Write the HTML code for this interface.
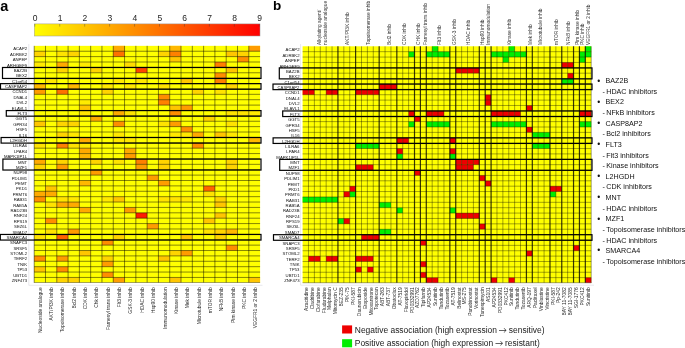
<!DOCTYPE html>
<html><head><meta charset="utf-8"><title>Figure</title>
<style>html,body{margin:0;padding:0;background:#fff;width:685px;height:348px;overflow:hidden}</style>
</head><body>
<svg width="685" height="348" viewBox="0 0 685 348" style="position:absolute;left:0;top:0;filter:blur(0.25px)"><rect width="685" height="348" fill="#fff"/><rect x="34.2" y="45.85" width="225.88" height="236.98" fill="#ffff00"/><rect x="113.26" y="45.85" width="11.29" height="5.39" fill="#ffaa00"/><rect x="169.73" y="45.85" width="11.29" height="5.39" fill="#ffb800"/><rect x="248.79" y="45.85" width="11.29" height="5.39" fill="#ff9c00"/><rect x="34.2" y="51.24" width="11.29" height="5.39" fill="#ffd400"/><rect x="56.79" y="51.24" width="11.29" height="5.39" fill="#ffe300"/><rect x="68.08" y="51.24" width="11.29" height="5.39" fill="#ffd400"/><rect x="113.26" y="51.24" width="11.29" height="5.39" fill="#ff7100"/><rect x="158.43" y="51.24" width="11.29" height="5.39" fill="#ffd400"/><rect x="169.73" y="51.24" width="11.29" height="5.39" fill="#ff8000"/><rect x="226.2" y="51.24" width="11.29" height="5.39" fill="#ffc600"/><rect x="237.49" y="51.24" width="11.29" height="5.39" fill="#ffd400"/><rect x="169.73" y="56.62" width="11.29" height="5.39" fill="#ffc600"/><rect x="237.49" y="56.62" width="11.29" height="5.39" fill="#ff8e00"/><rect x="34.2" y="62.01" width="11.29" height="5.39" fill="#ffeb00"/><rect x="56.79" y="62.01" width="11.29" height="5.39" fill="#ffaa00"/><rect x="79.38" y="62.01" width="11.29" height="5.39" fill="#ffeb00"/><rect x="124.55" y="62.01" width="11.29" height="5.39" fill="#ffdd00"/><rect x="214.9" y="62.01" width="11.29" height="5.39" fill="#ff8000"/><rect x="56.79" y="67.39" width="11.29" height="5.39" fill="#ffd400"/><rect x="90.67" y="67.39" width="11.29" height="5.39" fill="#ffd400"/><rect x="135.85" y="67.39" width="11.29" height="5.39" fill="#ff4700"/><rect x="226.2" y="67.39" width="11.29" height="5.39" fill="#ffc600"/><rect x="214.9" y="72.78" width="11.29" height="5.39" fill="#ff8e00"/><rect x="45.49" y="78.17" width="11.29" height="5.39" fill="#ffe800"/><rect x="113.26" y="78.17" width="11.29" height="5.39" fill="#ffe800"/><rect x="135.85" y="78.17" width="11.29" height="5.39" fill="#ffe800"/><rect x="181.02" y="78.17" width="11.29" height="5.39" fill="#ffc600"/><rect x="214.9" y="78.17" width="11.29" height="5.39" fill="#ff8000"/><rect x="34.2" y="83.55" width="11.29" height="5.39" fill="#ffb800"/><rect x="68.08" y="83.55" width="11.29" height="5.39" fill="#ffb800"/><rect x="101.96" y="83.55" width="11.29" height="5.39" fill="#ffe800"/><rect x="124.55" y="83.55" width="11.29" height="5.39" fill="#ffe800"/><rect x="158.43" y="83.55" width="11.29" height="5.39" fill="#ffe300"/><rect x="226.2" y="83.55" width="11.29" height="5.39" fill="#ffd400"/><rect x="34.2" y="88.94" width="11.29" height="5.39" fill="#ff9c00"/><rect x="56.79" y="88.94" width="11.29" height="5.39" fill="#ff7100"/><rect x="101.96" y="88.94" width="11.29" height="5.39" fill="#ffd400"/><rect x="192.32" y="88.94" width="11.29" height="5.39" fill="#ffd400"/><rect x="214.9" y="88.94" width="11.29" height="5.39" fill="#ffe300"/><rect x="158.43" y="94.32" width="11.29" height="5.39" fill="#ff8e00"/><rect x="79.38" y="99.71" width="11.29" height="5.39" fill="#ffeb00"/><rect x="158.43" y="99.71" width="11.29" height="5.39" fill="#ff8000"/><rect x="79.38" y="105.1" width="11.29" height="5.39" fill="#ffc600"/><rect x="169.73" y="105.1" width="11.29" height="5.39" fill="#ffc600"/><rect x="181.02" y="105.1" width="11.29" height="5.39" fill="#ff9c00"/><rect x="79.38" y="110.48" width="11.29" height="5.39" fill="#ffe300"/><rect x="113.26" y="110.48" width="11.29" height="5.39" fill="#ffaa00"/><rect x="124.55" y="110.48" width="11.29" height="5.39" fill="#ffe300"/><rect x="169.73" y="110.48" width="11.29" height="5.39" fill="#ff8e00"/><rect x="226.2" y="110.48" width="11.29" height="5.39" fill="#ffe300"/><rect x="237.49" y="110.48" width="11.29" height="5.39" fill="#ffe300"/><rect x="248.79" y="110.48" width="11.29" height="5.39" fill="#ffeb00"/><rect x="90.67" y="115.87" width="11.29" height="5.39" fill="#ffaa00"/><rect x="203.61" y="115.87" width="11.29" height="5.39" fill="#ffd400"/><rect x="34.2" y="121.25" width="11.29" height="5.39" fill="#ffc600"/><rect x="56.79" y="121.25" width="11.29" height="5.39" fill="#ffd400"/><rect x="68.08" y="121.25" width="11.29" height="5.39" fill="#ffd400"/><rect x="113.26" y="121.25" width="11.29" height="5.39" fill="#ff8e00"/><rect x="158.43" y="121.25" width="11.29" height="5.39" fill="#ffe300"/><rect x="169.73" y="121.25" width="11.29" height="5.39" fill="#ff9c00"/><rect x="226.2" y="121.25" width="11.29" height="5.39" fill="#ffe300"/><rect x="181.02" y="126.64" width="11.29" height="5.39" fill="#ff8e00"/><rect x="56.79" y="132.03" width="11.29" height="5.39" fill="#ffd400"/><rect x="68.08" y="132.03" width="11.29" height="5.39" fill="#ffe800"/><rect x="113.26" y="132.03" width="11.29" height="5.39" fill="#ffe800"/><rect x="169.73" y="132.03" width="11.29" height="5.39" fill="#ffe800"/><rect x="181.02" y="132.03" width="11.29" height="5.39" fill="#ffe800"/><rect x="192.32" y="132.03" width="11.29" height="5.39" fill="#ffaa00"/><rect x="214.9" y="132.03" width="11.29" height="5.39" fill="#ffc600"/><rect x="226.2" y="132.03" width="11.29" height="5.39" fill="#ffe800"/><rect x="79.38" y="137.41" width="11.29" height="5.39" fill="#ffaa00"/><rect x="113.26" y="137.41" width="11.29" height="5.39" fill="#ffe800"/><rect x="124.55" y="137.41" width="11.29" height="5.39" fill="#ffe800"/><rect x="248.79" y="137.41" width="11.29" height="5.39" fill="#ffb800"/><rect x="34.2" y="142.8" width="11.29" height="5.39" fill="#ffe300"/><rect x="56.79" y="142.8" width="11.29" height="5.39" fill="#ff8000"/><rect x="68.08" y="142.8" width="11.29" height="5.39" fill="#ffe300"/><rect x="79.38" y="142.8" width="11.29" height="5.39" fill="#ffe800"/><rect x="192.32" y="142.8" width="11.29" height="5.39" fill="#ff8e00"/><rect x="79.38" y="148.18" width="11.29" height="5.39" fill="#ffaa00"/><rect x="124.55" y="148.18" width="11.29" height="5.39" fill="#ffaa00"/><rect x="79.38" y="153.57" width="11.29" height="5.39" fill="#ffb800"/><rect x="124.55" y="153.57" width="11.29" height="5.39" fill="#ff9c00"/><rect x="34.2" y="158.96" width="11.29" height="5.39" fill="#ffaa00"/><rect x="56.79" y="158.96" width="11.29" height="5.39" fill="#ffd400"/><rect x="90.67" y="158.96" width="11.29" height="5.39" fill="#ffd400"/><rect x="113.26" y="158.96" width="11.29" height="5.39" fill="#ffe300"/><rect x="135.85" y="158.96" width="11.29" height="5.39" fill="#ff8000"/><rect x="158.43" y="158.96" width="11.29" height="5.39" fill="#ffd400"/><rect x="226.2" y="158.96" width="11.29" height="5.39" fill="#ffd400"/><rect x="34.2" y="164.34" width="11.29" height="5.39" fill="#ffd400"/><rect x="56.79" y="164.34" width="11.29" height="5.39" fill="#ff9c00"/><rect x="135.85" y="164.34" width="11.29" height="5.39" fill="#ff9c00"/><rect x="158.43" y="164.34" width="11.29" height="5.39" fill="#ffd400"/><rect x="226.2" y="164.34" width="11.29" height="5.39" fill="#ffd400"/><rect x="90.67" y="169.73" width="11.29" height="5.39" fill="#ff9c00"/><rect x="147.14" y="175.11" width="11.29" height="5.39" fill="#ff9c00"/><rect x="79.38" y="180.5" width="11.29" height="5.39" fill="#ffb800"/><rect x="158.43" y="180.5" width="11.29" height="5.39" fill="#ff9c00"/><rect x="45.49" y="185.89" width="11.29" height="5.39" fill="#ffc600"/><rect x="203.61" y="185.89" width="11.29" height="5.39" fill="#ff6300"/><rect x="34.2" y="191.27" width="11.29" height="5.39" fill="#ffaa00"/><rect x="45.49" y="191.27" width="11.29" height="5.39" fill="#ffaa00"/><rect x="203.61" y="191.27" width="11.29" height="5.39" fill="#ffe300"/><rect x="34.2" y="196.66" width="11.29" height="5.39" fill="#ff8e00"/><rect x="56.79" y="196.66" width="11.29" height="5.39" fill="#ffe300"/><rect x="68.08" y="196.66" width="11.29" height="5.39" fill="#ffe800"/><rect x="101.96" y="196.66" width="11.29" height="5.39" fill="#ffe800"/><rect x="113.26" y="196.66" width="11.29" height="5.39" fill="#ffc600"/><rect x="158.43" y="196.66" width="11.29" height="5.39" fill="#ffe300"/><rect x="169.73" y="196.66" width="11.29" height="5.39" fill="#ffe300"/><rect x="181.02" y="196.66" width="11.29" height="5.39" fill="#ffe800"/><rect x="214.9" y="196.66" width="11.29" height="5.39" fill="#ffd400"/><rect x="45.49" y="202.04" width="11.29" height="5.39" fill="#ffe300"/><rect x="56.79" y="202.04" width="11.29" height="5.39" fill="#ffaa00"/><rect x="68.08" y="202.04" width="11.29" height="5.39" fill="#ffaa00"/><rect x="214.9" y="202.04" width="11.29" height="5.39" fill="#ffc600"/><rect x="79.38" y="207.43" width="11.29" height="5.39" fill="#ffaa00"/><rect x="124.55" y="207.43" width="11.29" height="5.39" fill="#ff9c00"/><rect x="135.85" y="212.82" width="11.29" height="5.39" fill="#ff1c00"/><rect x="214.9" y="212.82" width="11.29" height="5.39" fill="#ffc600"/><rect x="45.49" y="218.2" width="11.29" height="5.39" fill="#ff8e00"/><rect x="203.61" y="218.2" width="11.29" height="5.39" fill="#ffc600"/><rect x="147.14" y="223.59" width="11.29" height="5.39" fill="#ff9c00"/><rect x="45.49" y="228.97" width="11.29" height="5.39" fill="#ffe300"/><rect x="68.08" y="228.97" width="11.29" height="5.39" fill="#ff9c00"/><rect x="203.61" y="228.97" width="11.29" height="5.39" fill="#ffe300"/><rect x="214.9" y="228.97" width="11.29" height="5.39" fill="#ffd400"/><rect x="226.2" y="228.97" width="11.29" height="5.39" fill="#ffb800"/><rect x="34.2" y="234.36" width="11.29" height="5.39" fill="#ffe300"/><rect x="56.79" y="234.36" width="11.29" height="5.39" fill="#ff6300"/><rect x="113.26" y="234.36" width="11.29" height="5.39" fill="#ffd400"/><rect x="181.02" y="234.36" width="11.29" height="5.39" fill="#ffc600"/><rect x="214.9" y="234.36" width="11.29" height="5.39" fill="#ffd400"/><rect x="101.96" y="239.75" width="11.29" height="5.39" fill="#ff8e00"/><rect x="226.2" y="245.13" width="11.29" height="5.39" fill="#ff8e00"/><rect x="79.38" y="250.52" width="11.29" height="5.39" fill="#ffc600"/><rect x="169.73" y="250.52" width="11.29" height="5.39" fill="#ffd400"/><rect x="181.02" y="250.52" width="11.29" height="5.39" fill="#ff9c00"/><rect x="34.2" y="255.9" width="11.29" height="5.39" fill="#ff8e00"/><rect x="56.79" y="255.9" width="11.29" height="5.39" fill="#ff9c00"/><rect x="101.96" y="255.9" width="11.29" height="5.39" fill="#ffd400"/><rect x="158.43" y="255.9" width="11.29" height="5.39" fill="#ffc600"/><rect x="101.96" y="261.29" width="11.29" height="5.39" fill="#ff9c00"/><rect x="34.2" y="266.68" width="11.29" height="5.39" fill="#ffc600"/><rect x="56.79" y="266.68" width="11.29" height="5.39" fill="#ff8e00"/><rect x="101.96" y="272.06" width="11.29" height="5.39" fill="#ff8e00"/><rect x="56.79" y="277.45" width="11.29" height="5.39" fill="#ffd400"/><rect x="68.08" y="277.45" width="11.29" height="5.39" fill="#ffd400"/><rect x="113.26" y="277.45" width="11.29" height="5.39" fill="#ff9c00"/><rect x="169.73" y="277.45" width="11.29" height="5.39" fill="#ffc600"/><rect x="248.79" y="277.45" width="11.29" height="5.39" fill="#ffc600"/><path d="M34.2 51.24H260.08M34.2 56.62H260.08M34.2 62.01H260.08M34.2 67.39H260.08M34.2 72.78H260.08M34.2 78.17H260.08M34.2 83.55H260.08M34.2 88.94H260.08M34.2 94.32H260.08M34.2 99.71H260.08M34.2 105.1H260.08M34.2 110.48H260.08M34.2 115.87H260.08M34.2 121.25H260.08M34.2 126.64H260.08M34.2 132.03H260.08M34.2 137.41H260.08M34.2 142.8H260.08M34.2 148.18H260.08M34.2 153.57H260.08M34.2 158.96H260.08M34.2 164.34H260.08M34.2 169.73H260.08M34.2 175.11H260.08M34.2 180.5H260.08M34.2 185.89H260.08M34.2 191.27H260.08M34.2 196.66H260.08M34.2 202.04H260.08M34.2 207.43H260.08M34.2 212.82H260.08M34.2 218.2H260.08M34.2 223.59H260.08M34.2 228.97H260.08M34.2 234.36H260.08M34.2 239.75H260.08M34.2 245.13H260.08M34.2 250.52H260.08M34.2 255.9H260.08M34.2 261.29H260.08M34.2 266.68H260.08M34.2 272.06H260.08M34.2 277.45H260.08M34.2 45.85V282.83M45.49 45.85V282.83M56.79 45.85V282.83M68.08 45.85V282.83M79.38 45.85V282.83M90.67 45.85V282.83M101.96 45.85V282.83M113.26 45.85V282.83M124.55 45.85V282.83M135.85 45.85V282.83M147.14 45.85V282.83M158.43 45.85V282.83M169.73 45.85V282.83M181.02 45.85V282.83M192.32 45.85V282.83M203.61 45.85V282.83M214.9 45.85V282.83M226.2 45.85V282.83M237.49 45.85V282.83M248.79 45.85V282.83" stroke="#000" stroke-opacity="0.6" stroke-width="0.8" fill="none"/><path d="M34.2 282.53H260.08" stroke="#666" stroke-width="0.6" fill="none"/><rect x="302.6" y="46.3" width="288.61" height="236.72" fill="#ffff00"/><rect x="432.18" y="46.3" width="5.89" height="5.38" fill="#00ee00"/><rect x="508.75" y="46.3" width="5.89" height="5.38" fill="#00ee00"/><rect x="585.32" y="46.3" width="5.89" height="5.38" fill="#00ee00"/><rect x="408.62" y="51.68" width="5.89" height="5.38" fill="#00ee00"/><rect x="426.29" y="51.68" width="5.89" height="5.38" fill="#00ee00"/><rect x="432.18" y="51.68" width="5.89" height="5.38" fill="#00ee00"/><rect x="438.07" y="51.68" width="5.89" height="5.38" fill="#00ee00"/><rect x="443.96" y="51.68" width="5.89" height="5.38" fill="#00ee00"/><rect x="491.08" y="51.68" width="5.89" height="5.38" fill="#00ee00"/><rect x="496.97" y="51.68" width="5.89" height="5.38" fill="#00ee00"/><rect x="502.86" y="51.68" width="5.89" height="5.38" fill="#00ee00"/><rect x="508.75" y="51.68" width="5.89" height="5.38" fill="#00ee00"/><rect x="514.64" y="51.68" width="5.89" height="5.38" fill="#00ee00"/><rect x="520.53" y="51.68" width="5.89" height="5.38" fill="#00ee00"/><rect x="579.43" y="51.68" width="5.89" height="5.38" fill="#00ee00"/><rect x="585.32" y="51.68" width="5.89" height="5.38" fill="#00ee00"/><rect x="502.86" y="57.06" width="5.89" height="5.38" fill="#00ee00"/><rect x="579.43" y="57.06" width="5.89" height="5.38" fill="#00ee00"/><rect x="561.76" y="78.58" width="5.89" height="5.38" fill="#00ee00"/><rect x="567.65" y="78.58" width="5.89" height="5.38" fill="#00ee00"/><rect x="408.62" y="121.62" width="5.89" height="5.38" fill="#00ee00"/><rect x="426.29" y="121.62" width="5.89" height="5.38" fill="#00ee00"/><rect x="432.18" y="121.62" width="5.89" height="5.38" fill="#00ee00"/><rect x="438.07" y="121.62" width="5.89" height="5.38" fill="#00ee00"/><rect x="443.96" y="121.62" width="5.89" height="5.38" fill="#00ee00"/><rect x="491.08" y="121.62" width="5.89" height="5.38" fill="#00ee00"/><rect x="496.97" y="121.62" width="5.89" height="5.38" fill="#00ee00"/><rect x="502.86" y="121.62" width="5.89" height="5.38" fill="#00ee00"/><rect x="508.75" y="121.62" width="5.89" height="5.38" fill="#00ee00"/><rect x="514.64" y="121.62" width="5.89" height="5.38" fill="#00ee00"/><rect x="520.53" y="121.62" width="5.89" height="5.38" fill="#00ee00"/><rect x="579.43" y="121.62" width="5.89" height="5.38" fill="#00ee00"/><rect x="585.32" y="121.62" width="5.89" height="5.38" fill="#00ee00"/><rect x="532.31" y="132.38" width="5.89" height="5.38" fill="#00ee00"/><rect x="538.2" y="132.38" width="5.89" height="5.38" fill="#00ee00"/><rect x="544.09" y="132.38" width="5.89" height="5.38" fill="#00ee00"/><rect x="355.61" y="143.14" width="5.89" height="5.38" fill="#00ee00"/><rect x="361.5" y="143.14" width="5.89" height="5.38" fill="#00ee00"/><rect x="367.39" y="143.14" width="5.89" height="5.38" fill="#00ee00"/><rect x="373.28" y="143.14" width="5.89" height="5.38" fill="#00ee00"/><rect x="532.31" y="143.14" width="5.89" height="5.38" fill="#00ee00"/><rect x="538.2" y="143.14" width="5.89" height="5.38" fill="#00ee00"/><rect x="544.09" y="143.14" width="5.89" height="5.38" fill="#00ee00"/><rect x="396.84" y="153.9" width="5.89" height="5.38" fill="#00ee00"/><rect x="449.85" y="153.9" width="5.89" height="5.38" fill="#00ee00"/><rect x="349.72" y="191.56" width="5.89" height="5.38" fill="#00ee00"/><rect x="549.98" y="191.56" width="5.89" height="5.38" fill="#00ee00"/><rect x="302.6" y="196.94" width="5.89" height="5.38" fill="#00ee00"/><rect x="308.49" y="196.94" width="5.89" height="5.38" fill="#00ee00"/><rect x="314.38" y="196.94" width="5.89" height="5.38" fill="#00ee00"/><rect x="320.27" y="196.94" width="5.89" height="5.38" fill="#00ee00"/><rect x="326.16" y="196.94" width="5.89" height="5.38" fill="#00ee00"/><rect x="332.05" y="196.94" width="5.89" height="5.38" fill="#00ee00"/><rect x="379.17" y="202.32" width="5.89" height="5.38" fill="#00ee00"/><rect x="385.06" y="202.32" width="5.89" height="5.38" fill="#00ee00"/><rect x="396.84" y="207.7" width="5.89" height="5.38" fill="#00ee00"/><rect x="449.85" y="207.7" width="5.89" height="5.38" fill="#00ee00"/><rect x="337.94" y="218.46" width="5.89" height="5.38" fill="#00ee00"/><rect x="379.17" y="229.22" width="5.89" height="5.38" fill="#00ee00"/><rect x="385.06" y="229.22" width="5.89" height="5.38" fill="#00ee00"/><rect x="561.76" y="62.44" width="5.89" height="5.38" fill="#ee0000"/><rect x="567.65" y="62.44" width="5.89" height="5.38" fill="#ee0000"/><rect x="455.74" y="67.82" width="5.89" height="5.38" fill="#ee0000"/><rect x="461.63" y="67.82" width="5.89" height="5.38" fill="#ee0000"/><rect x="467.52" y="67.82" width="5.89" height="5.38" fill="#ee0000"/><rect x="473.41" y="67.82" width="5.89" height="5.38" fill="#ee0000"/><rect x="567.65" y="73.2" width="5.89" height="5.38" fill="#ee0000"/><rect x="379.17" y="83.96" width="5.89" height="5.38" fill="#ee0000"/><rect x="385.06" y="83.96" width="5.89" height="5.38" fill="#ee0000"/><rect x="390.95" y="83.96" width="5.89" height="5.38" fill="#ee0000"/><rect x="302.6" y="89.34" width="5.89" height="5.38" fill="#ee0000"/><rect x="308.49" y="89.34" width="5.89" height="5.38" fill="#ee0000"/><rect x="326.16" y="89.34" width="5.89" height="5.38" fill="#ee0000"/><rect x="332.05" y="89.34" width="5.89" height="5.38" fill="#ee0000"/><rect x="355.61" y="89.34" width="5.89" height="5.38" fill="#ee0000"/><rect x="361.5" y="89.34" width="5.89" height="5.38" fill="#ee0000"/><rect x="367.39" y="89.34" width="5.89" height="5.38" fill="#ee0000"/><rect x="373.28" y="89.34" width="5.89" height="5.38" fill="#ee0000"/><rect x="485.19" y="94.72" width="5.89" height="5.38" fill="#ee0000"/><rect x="485.19" y="100.1" width="5.89" height="5.38" fill="#ee0000"/><rect x="526.42" y="105.48" width="5.89" height="5.38" fill="#ee0000"/><rect x="408.62" y="110.86" width="5.89" height="5.38" fill="#ee0000"/><rect x="426.29" y="110.86" width="5.89" height="5.38" fill="#ee0000"/><rect x="432.18" y="110.86" width="5.89" height="5.38" fill="#ee0000"/><rect x="438.07" y="110.86" width="5.89" height="5.38" fill="#ee0000"/><rect x="491.08" y="110.86" width="5.89" height="5.38" fill="#ee0000"/><rect x="496.97" y="110.86" width="5.89" height="5.38" fill="#ee0000"/><rect x="502.86" y="110.86" width="5.89" height="5.38" fill="#ee0000"/><rect x="508.75" y="110.86" width="5.89" height="5.38" fill="#ee0000"/><rect x="514.64" y="110.86" width="5.89" height="5.38" fill="#ee0000"/><rect x="579.43" y="110.86" width="5.89" height="5.38" fill="#ee0000"/><rect x="585.32" y="110.86" width="5.89" height="5.38" fill="#ee0000"/><rect x="414.51" y="116.24" width="5.89" height="5.38" fill="#ee0000"/><rect x="526.42" y="127" width="5.89" height="5.38" fill="#ee0000"/><rect x="396.84" y="137.76" width="5.89" height="5.38" fill="#ee0000"/><rect x="402.73" y="137.76" width="5.89" height="5.38" fill="#ee0000"/><rect x="449.85" y="137.76" width="5.89" height="5.38" fill="#ee0000"/><rect x="396.84" y="148.52" width="5.89" height="5.38" fill="#ee0000"/><rect x="449.85" y="148.52" width="5.89" height="5.38" fill="#ee0000"/><rect x="455.74" y="159.28" width="5.89" height="5.38" fill="#ee0000"/><rect x="461.63" y="159.28" width="5.89" height="5.38" fill="#ee0000"/><rect x="467.52" y="159.28" width="5.89" height="5.38" fill="#ee0000"/><rect x="473.41" y="159.28" width="5.89" height="5.38" fill="#ee0000"/><rect x="355.61" y="164.66" width="5.89" height="5.38" fill="#ee0000"/><rect x="361.5" y="164.66" width="5.89" height="5.38" fill="#ee0000"/><rect x="367.39" y="164.66" width="5.89" height="5.38" fill="#ee0000"/><rect x="455.74" y="164.66" width="5.89" height="5.38" fill="#ee0000"/><rect x="461.63" y="164.66" width="5.89" height="5.38" fill="#ee0000"/><rect x="467.52" y="164.66" width="5.89" height="5.38" fill="#ee0000"/><rect x="414.51" y="170.04" width="5.89" height="5.38" fill="#ee0000"/><rect x="479.3" y="175.42" width="5.89" height="5.38" fill="#ee0000"/><rect x="485.19" y="180.8" width="5.89" height="5.38" fill="#ee0000"/><rect x="349.72" y="186.18" width="5.89" height="5.38" fill="#ee0000"/><rect x="549.98" y="186.18" width="5.89" height="5.38" fill="#ee0000"/><rect x="555.87" y="186.18" width="5.89" height="5.38" fill="#ee0000"/><rect x="343.83" y="191.56" width="5.89" height="5.38" fill="#ee0000"/><rect x="455.74" y="213.08" width="5.89" height="5.38" fill="#ee0000"/><rect x="461.63" y="213.08" width="5.89" height="5.38" fill="#ee0000"/><rect x="467.52" y="213.08" width="5.89" height="5.38" fill="#ee0000"/><rect x="473.41" y="213.08" width="5.89" height="5.38" fill="#ee0000"/><rect x="343.83" y="218.46" width="5.89" height="5.38" fill="#ee0000"/><rect x="479.3" y="223.84" width="5.89" height="5.38" fill="#ee0000"/><rect x="361.5" y="234.6" width="5.89" height="5.38" fill="#ee0000"/><rect x="367.39" y="234.6" width="5.89" height="5.38" fill="#ee0000"/><rect x="373.28" y="234.6" width="5.89" height="5.38" fill="#ee0000"/><rect x="420.4" y="239.98" width="5.89" height="5.38" fill="#ee0000"/><rect x="573.54" y="245.36" width="5.89" height="5.38" fill="#ee0000"/><rect x="526.42" y="250.74" width="5.89" height="5.38" fill="#ee0000"/><rect x="308.49" y="256.12" width="5.89" height="5.38" fill="#ee0000"/><rect x="314.38" y="256.12" width="5.89" height="5.38" fill="#ee0000"/><rect x="326.16" y="256.12" width="5.89" height="5.38" fill="#ee0000"/><rect x="332.05" y="256.12" width="5.89" height="5.38" fill="#ee0000"/><rect x="355.61" y="256.12" width="5.89" height="5.38" fill="#ee0000"/><rect x="361.5" y="256.12" width="5.89" height="5.38" fill="#ee0000"/><rect x="367.39" y="256.12" width="5.89" height="5.38" fill="#ee0000"/><rect x="420.4" y="261.5" width="5.89" height="5.38" fill="#ee0000"/><rect x="355.61" y="266.88" width="5.89" height="5.38" fill="#ee0000"/><rect x="367.39" y="266.88" width="5.89" height="5.38" fill="#ee0000"/><rect x="420.4" y="272.26" width="5.89" height="5.38" fill="#ee0000"/><rect x="426.29" y="277.64" width="5.89" height="5.38" fill="#ee0000"/><rect x="432.18" y="277.64" width="5.89" height="5.38" fill="#ee0000"/><rect x="491.08" y="277.64" width="5.89" height="5.38" fill="#ee0000"/><rect x="508.75" y="277.64" width="5.89" height="5.38" fill="#ee0000"/><rect x="585.32" y="277.64" width="5.89" height="5.38" fill="#ee0000"/><path d="M302.6 51.68H591.21M302.6 57.06H591.21M302.6 62.44H591.21M302.6 67.82H591.21M302.6 73.2H591.21M302.6 78.58H591.21M302.6 83.96H591.21M302.6 89.34H591.21M302.6 94.72H591.21M302.6 100.1H591.21M302.6 105.48H591.21M302.6 110.86H591.21M302.6 116.24H591.21M302.6 121.62H591.21M302.6 127H591.21M302.6 132.38H591.21M302.6 137.76H591.21M302.6 143.14H591.21M302.6 148.52H591.21M302.6 153.9H591.21M302.6 159.28H591.21M302.6 164.66H591.21M302.6 170.04H591.21M302.6 175.42H591.21M302.6 180.8H591.21M302.6 186.18H591.21M302.6 191.56H591.21M302.6 196.94H591.21M302.6 202.32H591.21M302.6 207.7H591.21M302.6 213.08H591.21M302.6 218.46H591.21M302.6 223.84H591.21M302.6 229.22H591.21M302.6 234.6H591.21M302.6 239.98H591.21M302.6 245.36H591.21M302.6 250.74H591.21M302.6 256.12H591.21M302.6 261.5H591.21M302.6 266.88H591.21M302.6 272.26H591.21M302.6 277.64H591.21M308.49 46.3V283.02M314.38 46.3V283.02M320.27 46.3V283.02M326.16 46.3V283.02M332.05 46.3V283.02M343.83 46.3V283.02M349.72 46.3V283.02M361.5 46.3V283.02M367.39 46.3V283.02M373.28 46.3V283.02M385.06 46.3V283.02M390.95 46.3V283.02M402.73 46.3V283.02M408.62 46.3V283.02M432.18 46.3V283.02M438.07 46.3V283.02M443.96 46.3V283.02M461.63 46.3V283.02M467.52 46.3V283.02M473.41 46.3V283.02M496.97 46.3V283.02M502.86 46.3V283.02M508.75 46.3V283.02M514.64 46.3V283.02M520.53 46.3V283.02M538.2 46.3V283.02M544.09 46.3V283.02M555.87 46.3V283.02M567.65 46.3V283.02M591.21 46.3V283.02" stroke="#000" stroke-opacity="0.45" stroke-width="0.8" fill="none"/><path d="M337.94 46.3V283.02M355.61 46.3V283.02M379.17 46.3V283.02M396.84 46.3V283.02M414.51 46.3V283.02M420.4 46.3V283.02M426.29 46.3V283.02M449.85 46.3V283.02M455.74 46.3V283.02M479.3 46.3V283.02M485.19 46.3V283.02M491.08 46.3V283.02M526.42 46.3V283.02M532.31 46.3V283.02M549.98 46.3V283.02M561.76 46.3V283.02M573.54 46.3V283.02M579.43 46.3V283.02M585.32 46.3V283.02" stroke="#000" stroke-opacity="0.78" stroke-width="1.2" fill="none"/><path d="M302.6 282.72H591.21" stroke="#666" stroke-width="0.6" fill="none"/><path d="M28.8 44V285.3M28.8 285.3H262.5M300.6 44V285.2M300.6 285.2H594" stroke="#e2e2e8" stroke-width="0.8" fill="none"/><g font-family="'Liberation Sans', Arial, sans-serif" font-size="4.25" fill="#111" text-anchor="end"><text x="27.1" y="50.39">ACAP2</text><text x="299.5" y="51.49">ACAP2</text><text x="27.1" y="55.78">ADRBK2</text><text x="299.5" y="56.85">ADRBK2</text><text x="27.1" y="61.16">ANPEP</text><text x="299.5" y="62.21">ANPEP</text><text x="27.1" y="66.55">ARHGEF9</text><text x="299.5" y="67.58">ARHGEF9</text><text x="27.1" y="71.94">BAZ2B</text><text x="299.5" y="72.94">BAZ2B</text><text x="27.1" y="77.32">BEX2</text><text x="299.5" y="78.3">BEX2</text><text x="27.1" y="82.71">C1orf54</text><text x="299.5" y="83.66">C1orf54</text><text x="27.1" y="88.09">CASP8AP2</text><text x="299.5" y="89.02">CASP8AP2</text><text x="27.1" y="93.48">CCND1</text><text x="299.5" y="94.39">CCND1</text><text x="27.1" y="98.87">DNAL4</text><text x="299.5" y="99.75">DNAL4</text><text x="27.1" y="104.25">DVL2</text><text x="299.5" y="105.11">DVL2</text><text x="27.1" y="109.64">ELAVL1</text><text x="299.5" y="110.47">ELAVL1</text><text x="27.1" y="115.02">FLT3</text><text x="299.5" y="115.83">FLT3</text><text x="27.1" y="120.41">GGT5</text><text x="299.5" y="121.2">GGT5</text><text x="27.1" y="125.8">GPR34</text><text x="299.5" y="126.56">GPR34</text><text x="27.1" y="131.18">HSF5</text><text x="299.5" y="131.92">HSF5</text><text x="27.1" y="136.57">IL16</text><text x="299.5" y="137.28">IL16</text><text x="27.1" y="141.96">L2HGDH</text><text x="299.5" y="142.64">L2HGDH</text><text x="27.1" y="147.34">LILRA6</text><text x="299.5" y="148.01">LILRA6</text><text x="27.1" y="152.73">LPAR4</text><text x="299.5" y="153.37">LPAR4</text><text x="27.1" y="158.11">MAPK1IP1L</text><text x="299.5" y="158.73">MAPK1IP1L</text><text x="27.1" y="163.5">MNT</text><text x="299.5" y="164.09">MNT</text><text x="27.1" y="168.89">MZF1</text><text x="299.5" y="169.45">MZF1</text><text x="27.1" y="174.27">NUP98</text><text x="299.5" y="174.82">NUP98</text><text x="27.1" y="179.66">PDLIM1</text><text x="299.5" y="180.18">PDLIM1</text><text x="27.1" y="185.04">PEMT</text><text x="299.5" y="185.54">PEMT</text><text x="27.1" y="190.43">PKD1</text><text x="299.5" y="190.9">PKD1</text><text x="27.1" y="195.81">PRMT6</text><text x="299.5" y="196.26">PRMT6</text><text x="27.1" y="201.2">RAB31</text><text x="299.5" y="201.63">RAB31</text><text x="27.1" y="206.59">RAB5A</text><text x="299.5" y="206.99">RAB5A</text><text x="27.1" y="211.97">RAD23B</text><text x="299.5" y="212.35">RAD23B</text><text x="27.1" y="217.36">RNF24</text><text x="299.5" y="217.71">RNF24</text><text x="27.1" y="222.75">RPS19</text><text x="299.5" y="223.07">RPS19</text><text x="27.1" y="228.13">SEZ6L</text><text x="299.5" y="228.44">SEZ6L</text><text x="27.1" y="233.52">SMAD7</text><text x="299.5" y="233.8">SMAD7</text><text x="27.1" y="238.9">SMARCA4</text><text x="299.5" y="239.16">SMARCA4</text><text x="27.1" y="244.29">SNAPC3</text><text x="299.5" y="244.52">SNAPC3</text><text x="27.1" y="249.68">SRSF5</text><text x="299.5" y="249.88">SRSF5</text><text x="27.1" y="255.06">STOML2</text><text x="299.5" y="255.25">STOML2</text><text x="27.1" y="260.45">TERF2</text><text x="299.5" y="260.61">TERF2</text><text x="27.1" y="265.83">TNIK</text><text x="299.5" y="265.97">TNIK</text><text x="27.1" y="271.22">TP53</text><text x="299.5" y="271.33">TP53</text><text x="27.1" y="276.61">UBTD1</text><text x="299.5" y="276.69">UBTD1</text><text x="27.1" y="281.99">ZNF473</text><text x="299.5" y="282.06">ZNF473</text></g><g font-family="'Liberation Sans', Arial, sans-serif" font-size="4.9" fill="#2a2a2a" text-anchor="end"><text transform="translate(41.6 287.3) rotate(-90)">Nucleoside analogue</text><text transform="translate(52.96 287.3) rotate(-90)">AKT/PI3K inhib</text><text transform="translate(64.32 287.3) rotate(-90)">Topoisomerase inhib</text><text transform="translate(75.68 287.3) rotate(-90)">Bcl2 inhib</text><text transform="translate(87.04 287.3) rotate(-90)">CDK inhib</text><text transform="translate(98.4 287.3) rotate(-90)">Chk inhib</text><text transform="translate(109.76 287.3) rotate(-90)">Farnesyl trans inhib</text><text transform="translate(121.12 287.3) rotate(-90)">Flt3 inhib</text><text transform="translate(132.48 287.3) rotate(-90)">GSK-3 inhib</text><text transform="translate(143.84 287.3) rotate(-90)">HDAC inhib</text><text transform="translate(155.2 287.3) rotate(-90)">Hsp90 inhib</text><text transform="translate(166.56 287.3) rotate(-90)">Immunomodulation</text><text transform="translate(177.92 287.3) rotate(-90)">Kinase inhib</text><text transform="translate(189.28 287.3) rotate(-90)">Mek inhib</text><text transform="translate(200.64 287.3) rotate(-90)">Microtubule inhib</text><text transform="translate(212 287.3) rotate(-90)">mTOR inhib</text><text transform="translate(223.36 287.3) rotate(-90)">NFkB inhib</text><text transform="translate(234.72 287.3) rotate(-90)">Pim kinase inhib</text><text transform="translate(246.08 287.3) rotate(-90)">PKC inhib</text><text transform="translate(257.44 287.3) rotate(-90)">VEGFR1 or 2 inhib</text><text transform="translate(307.9 287.3) rotate(-90)">Azacitidine</text><text transform="translate(313.77 287.3) rotate(-90)">Cladribine</text><text transform="translate(319.65 287.3) rotate(-90)">Clofarabine</text><text transform="translate(325.52 287.3) rotate(-90)">Fludarabine</text><text transform="translate(331.39 287.3) rotate(-90)">Melphalan</text><text transform="translate(337.26 287.3) rotate(-90)">Mitomycin C</text><text transform="translate(343.14 287.3) rotate(-90)">BEZ-235</text><text transform="translate(349.01 287.3) rotate(-90)">PIK-75</text><text transform="translate(354.88 287.3) rotate(-90)">PKI-587</text><text transform="translate(360.76 287.3) rotate(-90)">Daunorubicin</text><text transform="translate(366.63 287.3) rotate(-90)">Etoposide</text><text transform="translate(372.5 287.3) rotate(-90)">Mitoxantrone</text><text transform="translate(378.38 287.3) rotate(-90)">Topotecan</text><text transform="translate(384.25 287.3) rotate(-90)">ABT-263</text><text transform="translate(390.12 287.3) rotate(-90)">ABT-737</text><text transform="translate(396 287.3) rotate(-90)">Obatoclax</text><text transform="translate(401.87 287.3) rotate(-90)">AT-7519</text><text transform="translate(407.74 287.3) rotate(-90)">Flavopiridol</text><text transform="translate(413.61 287.3) rotate(-90)">PD0332991</text><text transform="translate(419.49 287.3) rotate(-90)">AZD7762</text><text transform="translate(425.36 287.3) rotate(-90)">Tipifarnib</text><text transform="translate(431.23 287.3) rotate(-90)">AP24534</text><text transform="translate(437.11 287.3) rotate(-90)">Sunitinib</text><text transform="translate(442.98 287.3) rotate(-90)">Tandutinib</text><text transform="translate(448.85 287.3) rotate(-90)">Tozasertib</text><text transform="translate(454.73 287.3) rotate(-90)">AT-7519</text><text transform="translate(460.6 287.3) rotate(-90)">Belinostat</text><text transform="translate(466.47 287.3) rotate(-90)">MS-275</text><text transform="translate(472.34 287.3) rotate(-90)">Panobinostat</text><text transform="translate(478.22 287.3) rotate(-90)">Vorinostat</text><text transform="translate(484.09 287.3) rotate(-90)">Tanespimycin</text><text transform="translate(489.96 287.3) rotate(-90)">AS101</text><text transform="translate(495.84 287.3) rotate(-90)">AP24534</text><text transform="translate(501.71 287.3) rotate(-90)">PD0332991</text><text transform="translate(507.58 287.3) rotate(-90)">PKC412</text><text transform="translate(513.46 287.3) rotate(-90)">Sunitinib</text><text transform="translate(519.33 287.3) rotate(-90)">Tandutinib</text><text transform="translate(525.2 287.3) rotate(-90)">Tozasertib</text><text transform="translate(531.07 287.3) rotate(-90)">ARQ-197</text><text transform="translate(536.95 287.3) rotate(-90)">Paclitaxel</text><text transform="translate(542.82 287.3) rotate(-90)">Vinblastine</text><text transform="translate(548.69 287.3) rotate(-90)">Vincristine</text><text transform="translate(554.57 287.3) rotate(-90)">PKI-587</text><text transform="translate(560.44 287.3) rotate(-90)">Pp-242</text><text transform="translate(566.31 287.3) rotate(-90)">BAY 11-7082</text><text transform="translate(572.18 287.3) rotate(-90)">BAY 11-7085</text><text transform="translate(578.06 287.3) rotate(-90)">SGI-1776</text><text transform="translate(583.93 287.3) rotate(-90)">PKC412</text><text transform="translate(589.8 287.3) rotate(-90)">Sunitinib</text></g><g font-family="'Liberation Sans', Arial, sans-serif" font-size="4.8" fill="#333" text-anchor="start"><text transform="translate(321 44.9) rotate(-90)">Alkylating agent/</text><text transform="translate(326.9 44.9) rotate(-90)">nucleoside analogue</text><text transform="translate(349.4 44.9) rotate(-90)">AKT/PI3K inhib</text><text transform="translate(370.4 44.9) rotate(-90)">Topoisomerase inhib</text><text transform="translate(390.8 44.9) rotate(-90)">Bcl2 inhib</text><text transform="translate(406.1 44.9) rotate(-90)">CDK inhib</text><text transform="translate(420 44.9) rotate(-90)">CHK inhib</text><text transform="translate(426.6 44.9) rotate(-90)">Farnesyl trans inhib</text><text transform="translate(441.1 44.9) rotate(-90)">Flt3 inhib</text><text transform="translate(455.7 44.9) rotate(-90)">GSK-3 inhib</text><text transform="translate(469.8 44.9) rotate(-90)">HDAC inhib</text><text transform="translate(484.4 44.9) rotate(-90)">Hsp90 inhib</text><text transform="translate(490.3 44.9) rotate(-90)">Immunomodulation</text><text transform="translate(511 44.9) rotate(-90)">Kinase inhib</text><text transform="translate(531.9 44.9) rotate(-90)">Mek inhib</text><text transform="translate(541.8 44.9) rotate(-90)">Microtubule inhib</text><text transform="translate(557.6 44.9) rotate(-90)">mTOR inhib</text><text transform="translate(569.8 44.9) rotate(-90)">NFkB inhib</text><text transform="translate(579 44.9) rotate(-90)">Pim kinase inhib</text><text transform="translate(584.4 44.9) rotate(-90)">PKC inhib</text><text transform="translate(589.7 44.9) rotate(-90)">VEGFR1 or 2 inhib</text></g><defs><linearGradient id="cb" x1="0" x2="1" y1="0" y2="0"><stop offset="0" stop-color="#ffff00"/><stop offset="1" stop-color="#ff0000"/></linearGradient></defs><rect x="34.3" y="23.9" width="225.7" height="12.1" fill="url(#cb)" stroke="#999" stroke-width="0.5"/><path d="M34.8 24V26.6M59.74 24V26.6M84.68 24V26.6M109.62 24V26.6M134.56 24V26.6M159.5 24V26.6M184.44 24V26.6M209.38 24V26.6M234.32 24V26.6M259.26 24V26.6" stroke="#333" stroke-opacity="0.7" stroke-width="0.5"/><g font-family="'Liberation Sans', Arial, sans-serif" font-size="8.5" fill="#222" text-anchor="middle"><text x="35.1" y="21.1">0</text><text x="60.04" y="21.1">1</text><text x="84.98" y="21.1">2</text><text x="109.92" y="21.1">3</text><text x="134.86" y="21.1">4</text><text x="159.8" y="21.1">5</text><text x="184.74" y="21.1">6</text><text x="209.68" y="21.1">7</text><text x="234.62" y="21.1">8</text><text x="259.56" y="21.1">9</text></g><text x="0.3" y="10.9" font-family="'Liberation Sans', Arial, sans-serif" font-weight="bold" font-size="14.5" fill="#000">a</text><text x="273.1" y="10.0" font-family="'Liberation Sans', Arial, sans-serif" font-weight="bold" font-size="13.5" fill="#000">b</text><g fill="none" stroke="#000" stroke-width="1.2"><rect x="2.5" y="67.49" width="258.5" height="10.97"/><rect x="0.5" y="83.65" width="260.5" height="5.59"/><rect x="6.3" y="110.58" width="254.7" height="5.59"/><rect x="1.1" y="137.51" width="259.9" height="5.59"/><rect x="2.9" y="159.06" width="258.1" height="10.97"/><rect x="0.3" y="234.46" width="260.7" height="5.59"/></g><g fill="none" stroke="#000" stroke-width="1.2"><rect x="279.3" y="67.92" width="312.7" height="10.96"/><rect x="273" y="84.06" width="319" height="5.58"/><rect x="282.7" y="110.96" width="309.3" height="5.58"/><rect x="273.1" y="137.86" width="318.9" height="5.58"/><rect x="279.7" y="159.38" width="312.3" height="10.96"/><rect x="273.5" y="234.7" width="318.5" height="5.58"/></g><g font-family="'Liberation Sans', Arial, sans-serif" font-size="7.15" fill="#111"><text x="597.2" y="83.55" font-size="8.6">•</text><text x="605.6" y="83.25">BAZ2B</text><text x="602.6" y="93.87">-</text><text x="606.3" y="93.87">HDAC inhibitors</text><text x="597.2" y="104.79" font-size="8.6">•</text><text x="605.6" y="104.49">BEX2</text><text x="602.6" y="115.11">-</text><text x="606.3" y="115.11">NFkB inhibitors</text><text x="597.2" y="126.03" font-size="8.6">•</text><text x="605.6" y="125.73">CASP8AP2</text><text x="602.6" y="136.35">-</text><text x="606.3" y="136.35">Bcl2 inhibitors</text><text x="597.2" y="147.27" font-size="8.6">•</text><text x="605.6" y="146.97">FLT3</text><text x="602.6" y="157.59">-</text><text x="606.3" y="157.59">Flt3 inhibitors</text><text x="602.6" y="168.21">-</text><text x="606.3" y="168.21">Kinase inhibitors</text><text x="597.2" y="179.13" font-size="8.6">•</text><text x="605.6" y="178.83">L2HGDH</text><text x="602.6" y="189.45">-</text><text x="606.3" y="189.45">CDK inhibitors</text><text x="597.2" y="200.37" font-size="8.6">•</text><text x="605.6" y="200.07">MNT</text><text x="602.6" y="210.69">-</text><text x="606.3" y="210.69">HDAC inhibitors</text><text x="597.2" y="221.61" font-size="8.6">•</text><text x="605.6" y="221.31">MZF1</text><text x="602.6" y="231.93">-</text><text x="606.3" y="231.93">Topoisomerase inhibitors</text><text x="602.6" y="242.55">-</text><text x="606.3" y="242.55">HDAC inhibitors</text><text x="597.2" y="253.47" font-size="8.6">•</text><text x="605.6" y="253.17">SMARCA4</text><text x="602.6" y="263.79">-</text><text x="606.3" y="263.79">Topoisomerase inhibitors</text></g><rect x="342.1" y="325.4" width="10" height="8.1" fill="#ee0000"/><rect x="342.1" y="339.2" width="10" height="8.1" fill="#00ee00"/><g font-family="'Liberation Sans', Arial, sans-serif" font-size="8.45" fill="#1a1a1a"><text x="354.8" y="332.6">Negative association (high expression <tspan x="498.6" font-family="Lato" fill="#333">→</tspan> <tspan x="508.85">sensitive)</tspan></text><text x="354.8" y="345.9">Positive association (high expression <tspan x="495.1" font-family="Lato" fill="#333">→</tspan> <tspan x="505.05">resistant)</tspan></text></g></svg>
</body></html>
